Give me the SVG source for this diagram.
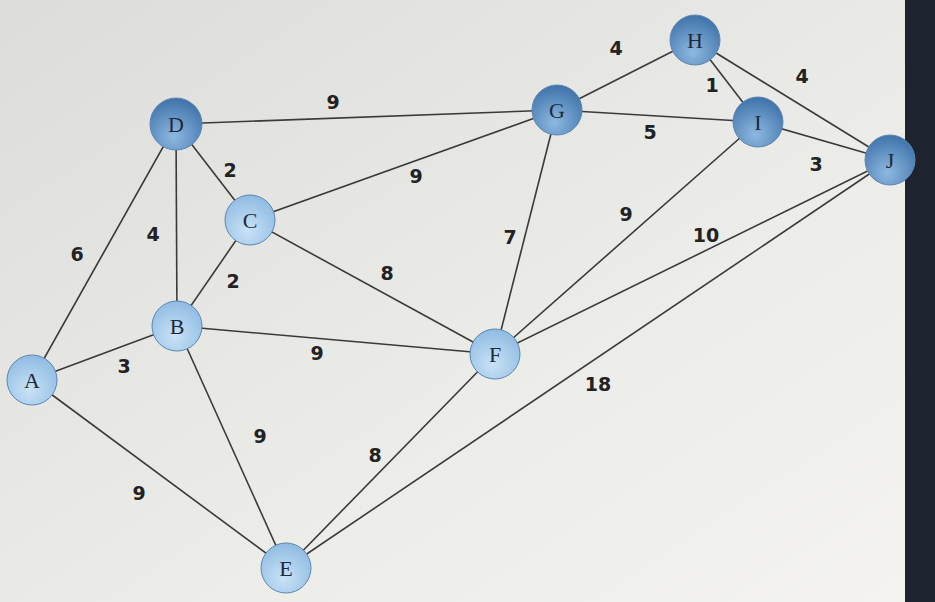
<svg xmlns="http://www.w3.org/2000/svg" width="935" height="602" viewBox="0 0 935 602">
<defs>
<linearGradient id="bg" x1="0" y1="0" x2="1" y2="1">
<stop offset="0" stop-color="#dcdcda"/><stop offset="0.6" stop-color="#ecece9"/><stop offset="1" stop-color="#f4f3ef"/>
</linearGradient>
<radialGradient id="lt" cx="0.45" cy="0.7" r="0.7">
<stop offset="0" stop-color="#c9e2f6"/><stop offset="1" stop-color="#8fbbe2"/>
</radialGradient>
<radialGradient id="dk" cx="0.45" cy="0.75" r="0.75">
<stop offset="0" stop-color="#8db9e0"/><stop offset="1" stop-color="#3f72aa"/>
</radialGradient>
<style>
.e{stroke:#3a3a3a;stroke-width:1.6;fill:none}
.w{font-family:"DejaVu Sans","Liberation Sans",sans-serif;font-weight:bold;font-size:19px;fill:#222;text-anchor:middle}
.n{font-family:"Liberation Serif",serif;font-size:22px;fill:#1e2a3a;text-anchor:middle;dominant-baseline:central}
.c{stroke:#5d86b0;stroke-width:1}
</style>
</defs>
<rect width="935" height="602" fill="url(#bg)"/>
<rect x="905" y="0" width="30" height="602" fill="#1d2430"/>
<g id="connectors">
<line class="e" x1="176" y1="124" x2="557" y2="110"/>
<line class="e" x1="176" y1="124" x2="250" y2="220"/>
<line class="e" x1="176" y1="124" x2="177" y2="326"/>
<line class="e" x1="176" y1="124" x2="32" y2="380"/>
<line class="e" x1="250" y1="220" x2="557" y2="110"/>
<line class="e" x1="250" y1="220" x2="177" y2="326"/>
<line class="e" x1="250" y1="220" x2="495" y2="354"/>
<line class="e" x1="177" y1="326" x2="32" y2="380"/>
<line class="e" x1="177" y1="326" x2="495" y2="354"/>
<line class="e" x1="177" y1="326" x2="286" y2="568"/>
<line class="e" x1="32" y1="380" x2="286" y2="568"/>
<line class="e" x1="286" y1="568" x2="495" y2="354"/>
<line class="e" x1="286" y1="568" x2="890" y2="160"/>
<line class="e" x1="495" y1="354" x2="557" y2="110"/>
<line class="e" x1="495" y1="354" x2="758" y2="122"/>
<line class="e" x1="495" y1="354" x2="890" y2="160"/>
<line class="e" x1="557" y1="110" x2="695" y2="40"/>
<line class="e" x1="557" y1="110" x2="758" y2="122"/>
<line class="e" x1="695" y1="40" x2="758" y2="122"/>
<line class="e" x1="695" y1="40" x2="890" y2="160"/>
<line class="e" x1="758" y1="122" x2="890" y2="160"/>
<text class="w" x="333" y="109">9</text>
<text class="w" x="230" y="177">2</text>
<text class="w" x="153" y="241">4</text>
<text class="w" x="77" y="261">6</text>
<text class="w" x="416" y="183">9</text>
<text class="w" x="233" y="288">2</text>
<text class="w" x="387" y="280">8</text>
<text class="w" x="124" y="373">3</text>
<text class="w" x="317" y="360">9</text>
<text class="w" x="260" y="443">9</text>
<text class="w" x="139" y="500">9</text>
<text class="w" x="375" y="462">8</text>
<text class="w" x="598" y="391">18</text>
<text class="w" x="510" y="244">7</text>
<text class="w" x="626" y="221">9</text>
<text class="w" x="706" y="242">10</text>
<text class="w" x="616" y="55">4</text>
<text class="w" x="650" y="139">5</text>
<text class="w" x="712" y="92">1</text>
<text class="w" x="802" y="83">4</text>
<text class="w" x="816" y="171">3</text>
</g>
<g id="A"><circle class="c" cx="32" cy="380" r="25" fill="url(#lt)"/><text class="n" x="32" y="380">A</text></g>
<g id="B"><circle class="c" cx="177" cy="326" r="25" fill="url(#lt)"/><text class="n" x="177" y="326">B</text></g>
<g id="C"><circle class="c" cx="250" cy="220" r="25" fill="url(#lt)"/><text class="n" x="250" y="220">C</text></g>
<g id="D"><circle class="c" cx="176" cy="124" r="26" fill="url(#dk)"/><text class="n" x="176" y="124">D</text></g>
<g id="E"><circle class="c" cx="286" cy="568" r="25" fill="url(#lt)"/><text class="n" x="286" y="568">E</text></g>
<g id="F"><circle class="c" cx="495" cy="354" r="25" fill="url(#lt)"/><text class="n" x="495" y="354">F</text></g>
<g id="G"><circle class="c" cx="557" cy="110" r="25" fill="url(#dk)"/><text class="n" x="557" y="110">G</text></g>
<g id="H"><circle class="c" cx="695" cy="40" r="25" fill="url(#dk)"/><text class="n" x="695" y="40">H</text></g>
<g id="I"><circle class="c" cx="758" cy="122" r="25" fill="url(#dk)"/><text class="n" x="758" y="122">I</text></g>
<g id="J"><circle class="c" cx="890" cy="160" r="25" fill="url(#dk)"/><text class="n" x="890" y="160">J</text></g>
</svg>
